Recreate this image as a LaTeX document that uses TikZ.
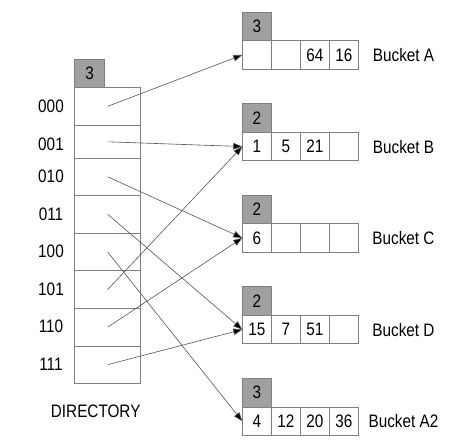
\documentclass[tikz,border=0pt]{standalone}
\usepackage{fontspec}
\setmainfont{Liberation Sans}
\usetikzlibrary{arrows.meta}
\definecolor{hdrfill}{RGB}{160,160,160}
\definecolor{cellline}{RGB}{128,128,128}
\definecolor{arrowline}{RGB}{85,85,85}
\newcommand{\vtxt}[1]{\scalebox{1}[1.18]{#1}}
\begin{document}
\begin{tikzpicture}[x=1pt,y=-1pt,
  every node/.style={font=\fontsize{15.3}{18}\selectfont},
  cellbox/.style={draw=cellline, line width=0.8pt, minimum width=29pt, minimum height=28.5pt, inner sep=0pt, outer sep=0pt, fill=white},
  hdrbox/.style={cellbox, fill=hdrfill},
  dirrow/.style={draw=cellline, line width=0.8pt, minimum width=66pt, inner sep=0pt, outer sep=0pt},
  ptr/.style={draw=arrowline, line width=0.6pt, -{Triangle[length=9pt,width=6.5pt,fill=black]}},
  lbl/.style={inner sep=0pt}
]
\useasboundingbox (0,0) rectangle (474,447);
% directory
\node[hdrbox, minimum width=30pt, minimum height=28pt] (dh) at (89.7,73.3) {\vtxt{3}};
\node[dirrow, minimum height=38pt]   (r0) at (107.7,106.3) {};
\node[dirrow, minimum height=33pt]   (r1) at (107.7,141.8) {};
\node[dirrow, minimum height=37pt]   (r2) at (107.7,176.8) {};
\node[dirrow, minimum height=38pt]   (r3) at (107.7,214.3) {};
\node[dirrow, minimum height=37.4pt] (r4) at (107.7,252.0) {};
\node[dirrow, minimum height=37.6pt] (r5) at (107.7,289.5) {};
\node[dirrow, minimum height=37.7pt] (r6) at (107.7,327.15) {};
\node[dirrow, minimum height=37.3pt] (r7) at (107.7,364.65) {};
\node[lbl] (l0) at (51,106) {\vtxt{000}};
\node[lbl] (l1) at (51,144) {\vtxt{001}};
\node[lbl] (l2) at (51,176.7) {\vtxt{010}};
\node[lbl] (l3) at (51,214) {\vtxt{011}};
\node[lbl] (l4) at (51,251) {\vtxt{100}};
\node[lbl] (l5) at (51,289) {\vtxt{101}};
\node[lbl] (l6) at (51,326.7) {\vtxt{110}};
\node[lbl] (l7) at (51,364) {\vtxt{111}};
\node[lbl] (dirlbl) at (95.7,411) {\vtxt{DIRECTORY}};
% buckets
\foreach \n/\y/\d/\va/\vb/\vc/\vd/\txt in {
  ba/54.95/3/{}/{}/64/16/{Bucket A},
  bb/146.55/2/1/5/21/{}/{Bucket B},
  bc/237.95/2/6/{}/{}/{}/{Bucket C},
  bd/329.55/2/15/7/51/{}/{Bucket D},
  be/421.25/3/4/12/20/36/{Bucket A2}}{
  \node[hdrbox] (\n h) at (256.8,\y-28.5) {\vtxt{\d}};
  \node[cellbox] (\n0) at (256.8,\y) {\vtxt{\va}};
  \node[cellbox] (\n1) at (285.8,\y) {\vtxt{\vb}};
  \node[cellbox] (\n2) at (314.8,\y) {\vtxt{\vc}};
  \node[cellbox] (\n3) at (343.8,\y) {\vtxt{\vd}};
  \node[lbl] (\n l) at (403.5,\y) {\vtxt{\txt}};
}
% pointers
\draw[ptr] (r0.center) -- (ba0.west);
\draw[ptr] (r1.center) -- (bb0.west);
\draw[ptr] (r2.center) -- (bc0.west);
\draw[ptr] (r3.center) -- (bd0.west);
\draw[ptr] (r4.center) -- (be0.west);
\draw[ptr] (r5.center) -- (bb0.west);
\draw[ptr] (r6.center) -- (bc0.west);
\draw[ptr] (r7.center) -- (bd0.west);
\end{tikzpicture}
\end{document}
